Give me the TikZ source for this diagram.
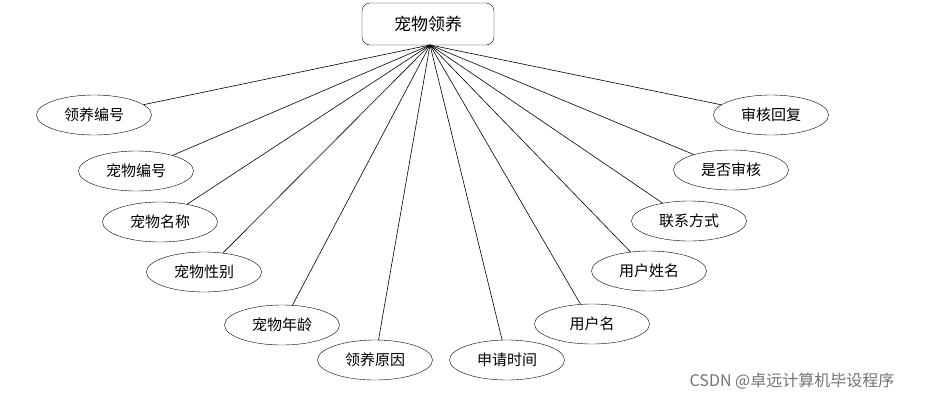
\documentclass[tikz,border=0pt]{standalone}
\usepackage{fontspec}
\newfontfamily\cjk{Noto Sans CJK SC}
\usetikzlibrary{shapes.geometric}
\begin{document}
\begin{tikzpicture}[x=1pt,y=-1pt,
  attr/.style={draw,ellipse,minimum width=115pt,minimum height=40pt,inner sep=0pt,font=\cjk\fontsize{15}{17}\selectfont},
  ent/.style={draw,rounded corners=8pt,minimum width=132pt,minimum height=42pt,font=\cjk\fontsize{17}{19}\selectfont},
  link/.style={draw,line width=0.6pt}]
\useasboundingbox (0,0) rectangle (931,400);
\node[ent] (top) at (428,24) {宠物领养};
\coordinate (hub) at (430,45);
\node[attr] (a1) at (94,115) {领养编号};
\node[attr] (a2) at (136,171) {宠物编号};
\node[attr] (a3) at (160,222) {宠物名称};
\node[attr] (a4) at (204,272) {宠物性别};
\node[attr] (a5) at (282,325) {宠物年龄};
\node[attr] (a6) at (375,360) {领养原因};
\node[attr] (a7) at (507,360) {申请时间};
\node[attr] (a8) at (592,324) {用户名};
\node[attr] (a9) at (649,271) {用户姓名};
\node[attr] (a10) at (689,221) {联系方式};
\node[attr] (a11) at (731,170) {是否审核};
\node[attr] (a12) at (771,115) {审核回复};
\foreach \n in {a1,a2,a3,a4,a5,a6,a7,a8,a9,a10,a11,a12}
  \draw[link] (hub) -- (\n);
\node[font=\cjk\fontsize{16}{18}\selectfont,text=gray!90!black] (wm) at (792,381) {CSDN @卓远计算机毕设程序};
\end{tikzpicture}
\end{document}
